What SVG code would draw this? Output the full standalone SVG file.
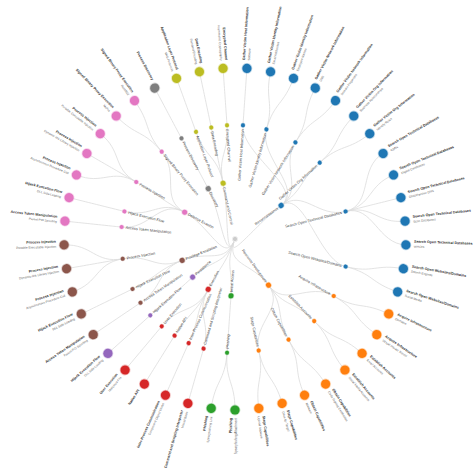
<svg xmlns="http://www.w3.org/2000/svg" width="474" height="475" viewBox="0 0 474 475">
<style>
.lk{fill:none;stroke:#dcdcdc;stroke-width:.8}
text{font-family:"Liberation Sans",Arial,sans-serif}
.t1{font-size:3.6px;font-weight:bold;fill:#333}
.t2{font-size:3.1px;fill:#666}
.ti{font-size:3.8px;fill:#444}
.fl{text-anchor:end}
.lf{stroke-width:1.6;stroke-opacity:.3}
.md{stroke-width:1;stroke-opacity:.3}
.tp{stroke-width:1.4;stroke-opacity:.3}
.blue{fill:#1f77b4;stroke:#1f77b4}
.orange{fill:#ff7f0e;stroke:#ff7f0e}
.green{fill:#2ca02c;stroke:#2ca02c}
.red{fill:#d62728;stroke:#d62728}
.purple{fill:#9467bd;stroke:#9467bd}
.brown{fill:#8c564b;stroke:#8c564b}
.pink{fill:#e377c2;stroke:#e377c2}
.gray{fill:#7f7f7f;stroke:#7f7f7f}
.olive{fill:#bcbd22;stroke:#bcbd22}
</style>
<rect width="474" height="475" fill="#fff"/>
<g transform="translate(235,239)">
<g id="connectors">
<path class="lk" d="M0,0C-10.21,26.61 23.06,-16.75 46.11,-33.5"/>
<path class="lk" d="M0,0C-10.21,26.61 16.75,23.06 33.5,46.11"/>
<path class="lk" d="M0,0C-10.21,26.61 -1.99,28.43 -3.98,56.86"/>
<path class="lk" d="M0,0C-10.21,26.61 -13.38,25.16 -26.76,50.33"/>
<path class="lk" d="M0,0C-10.21,26.61 -21.18,19.07 -42.36,38.14"/>
<path class="lk" d="M0,0C-10.21,26.61 -26.43,10.68 -52.85,21.35"/>
<path class="lk" d="M0,0C-10.21,26.61 -25.16,-13.38 -50.33,-26.76"/>
<path class="lk" d="M0,0C-10.21,26.61 -13.38,-25.16 -26.76,-50.33"/>
<path class="lk" d="M0,0C-10.21,26.61 -5.93,-27.88 -11.85,-55.75"/>
<path class="lk" d="M46.11,-33.5C69.17,-50.26 5.97,-85.29 7.96,-113.73"/>
<path class="lk" d="M46.11,-33.5C69.17,-50.26 23.56,-82.19 31.42,-109.59"/>
<path class="lk" d="M46.11,-33.5C69.17,-50.26 45.31,-72.5 60.41,-96.67"/>
<path class="lk" d="M46.11,-33.5C69.17,-50.26 63.54,-57.21 84.71,-76.28"/>
<path class="lk" d="M46.11,-33.5C69.17,-50.26 82.96,-20.68 110.61,-27.58"/>
<path class="lk" d="M46.11,-33.5C69.17,-50.26 82.96,20.68 110.61,27.58"/>
<path class="lk" d="M33.5,46.11C50.26,69.17 74.04,42.75 98.72,57"/>
<path class="lk" d="M33.5,46.11C50.26,69.17 59.4,61.5 79.2,82"/>
<path class="lk" d="M33.5,46.11C50.26,69.17 40.14,75.49 53.52,100.65"/>
<path class="lk" d="M33.5,46.11C50.26,69.17 17.78,83.63 23.7,111.5"/>
<path class="lk" d="M-3.98,56.86C-5.97,85.29 -5.97,85.29 -7.96,113.73"/>
<path class="lk" d="M-26.76,50.33C-40.14,75.49 -23.56,82.19 -31.42,109.59"/>
<path class="lk" d="M-26.76,50.33C-40.14,75.49 -34.77,78.1 -46.36,104.14"/>
<path class="lk" d="M-26.76,50.33C-40.14,75.49 -45.31,72.5 -60.41,96.67"/>
<path class="lk" d="M-26.76,50.33C-40.14,75.49 -54.96,65.49 -73.28,87.32"/>
<path class="lk" d="M-42.36,38.14C-63.54,57.21 -63.54,57.21 -84.71,76.28"/>
<path class="lk" d="M-52.85,21.35C-79.28,32.03 -70.88,47.81 -94.51,63.75"/>
<path class="lk" d="M-52.85,21.35C-79.28,32.03 -76.85,37.48 -102.46,49.98"/>
<path class="lk" d="M-52.85,21.35C-79.28,32.03 -84.2,14.84 -112.27,19.79"/>
<path class="lk" d="M-50.33,-26.76C-75.49,-40.14 -85.03,-8.93 -113.37,-11.91"/>
<path class="lk" d="M-50.33,-26.76C-75.49,-40.14 -82.96,-20.68 -110.61,-27.58"/>
<path class="lk" d="M-50.33,-26.76C-75.49,-40.14 -74.04,-42.75 -98.72,-57"/>
<path class="lk" d="M-50.33,-26.76C-75.49,-40.14 -54.96,-65.49 -73.28,-87.32"/>
<path class="lk" d="M-26.76,-50.33C-40.14,-75.49 -40.14,-75.49 -53.52,-100.65"/>
<path class="lk" d="M-11.85,-55.75C-17.78,-83.63 -29.24,-80.34 -38.99,-107.13"/>
<path class="lk" d="M-11.85,-55.75C-17.78,-83.63 -17.78,-83.63 -23.7,-111.5"/>
<path class="lk" d="M-11.85,-55.75C-17.78,-83.63 -5.97,-85.29 -7.96,-113.73"/>
<path class="lk" d="M7.96,-113.73C9.95,-142.15 9.95,-142.16 11.94,-170.59"/>
<path class="lk" d="M31.42,-109.59C39.28,-136.98 29.63,-139.38 35.55,-167.26"/>
<path class="lk" d="M31.42,-109.59C39.28,-136.98 48.74,-133.91 58.48,-160.69"/>
<path class="lk" d="M60.41,-96.67C75.51,-120.84 66.9,-125.81 80.28,-150.98"/>
<path class="lk" d="M60.41,-96.67C75.51,-120.84 83.76,-115.28 100.51,-138.34"/>
<path class="lk" d="M84.71,-76.28C105.89,-95.35 98.99,-102.5 118.79,-123"/>
<path class="lk" d="M84.71,-76.28C105.89,-95.35 112.29,-87.74 134.75,-105.28"/>
<path class="lk" d="M110.61,-27.58C138.27,-34.47 123.41,-71.25 148.09,-85.5"/>
<path class="lk" d="M110.61,-27.58C138.27,-34.47 132.13,-53.38 158.55,-64.06"/>
<path class="lk" d="M110.61,-27.58C138.27,-34.47 138.27,-34.47 165.92,-41.36"/>
<path class="lk" d="M110.61,-27.58C138.27,-34.47 141.72,-14.89 170.06,-17.87"/>
<path class="lk" d="M110.61,-27.58C138.27,-34.47 142.41,4.97 170.9,5.97"/>
<path class="lk" d="M110.61,27.58C138.27,34.47 140.33,24.74 168.4,29.69"/>
<path class="lk" d="M110.61,27.58C138.27,34.47 135.53,44.03 162.64,52.84"/>
<path class="lk" d="M98.72,57C123.41,71.25 128.08,62.47 153.69,74.97"/>
<path class="lk" d="M98.72,57C123.41,71.25 118.13,79.69 141.76,95.62"/>
<path class="lk" d="M79.2,82C98.99,102.5 105.89,95.35 127.07,114.42"/>
<path class="lk" d="M79.2,82C98.99,102.5 91.6,109.16 109.92,130.99"/>
<path class="lk" d="M53.52,100.65C66.9,125.81 75.51,120.84 90.61,145.01"/>
<path class="lk" d="M53.52,100.65C66.9,125.81 57.95,130.17 69.55,156.21"/>
<path class="lk" d="M23.7,111.5C29.63,139.38 39.27,136.99 47.13,164.38"/>
<path class="lk" d="M23.7,111.5C29.63,139.38 19.84,141.12 23.8,169.34"/>
<path class="lk" d="M-7.96,113.73C-9.95,142.16 0,142.5 0,171"/>
<path class="lk" d="M-7.96,113.73C-9.95,142.16 -19.84,141.12 -23.8,169.34"/>
<path class="lk" d="M-31.42,109.59C-39.27,136.99 -39.27,136.99 -47.13,164.38"/>
<path class="lk" d="M-46.36,104.14C-57.95,130.17 -57.95,130.17 -69.55,156.21"/>
<path class="lk" d="M-60.41,96.67C-75.51,120.84 -75.51,120.84 -90.61,145.01"/>
<path class="lk" d="M-73.28,87.32C-91.6,109.16 -91.6,109.16 -109.92,130.99"/>
<path class="lk" d="M-84.71,76.28C-105.89,95.35 -105.89,95.35 -127.07,114.42"/>
<path class="lk" d="M-94.51,63.75C-118.13,79.69 -118.13,79.69 -141.76,95.62"/>
<path class="lk" d="M-102.46,49.98C-128.08,62.47 -128.08,62.47 -153.69,74.97"/>
<path class="lk" d="M-112.27,19.79C-140.33,24.74 -135.53,44.03 -162.64,52.84"/>
<path class="lk" d="M-112.27,19.79C-140.33,24.74 -140.33,24.74 -168.4,29.69"/>
<path class="lk" d="M-112.27,19.79C-140.33,24.74 -142.41,4.97 -170.9,5.97"/>
<path class="lk" d="M-113.37,-11.91C-141.72,-14.89 -141.72,-14.89 -170.06,-17.87"/>
<path class="lk" d="M-110.61,-27.58C-138.27,-34.47 -138.27,-34.47 -165.92,-41.36"/>
<path class="lk" d="M-98.72,-57C-123.41,-71.25 -132.13,-53.38 -158.55,-64.06"/>
<path class="lk" d="M-98.72,-57C-123.41,-71.25 -123.41,-71.25 -148.09,-85.5"/>
<path class="lk" d="M-98.72,-57C-123.41,-71.25 -112.29,-87.74 -134.75,-105.28"/>
<path class="lk" d="M-73.28,-87.32C-91.6,-109.16 -98.99,-102.5 -118.79,-123"/>
<path class="lk" d="M-73.28,-87.32C-91.6,-109.16 -83.76,-115.28 -100.51,-138.34"/>
<path class="lk" d="M-53.52,-100.65C-66.9,-125.81 -66.9,-125.81 -80.28,-150.98"/>
<path class="lk" d="M-38.99,-107.13C-48.74,-133.91 -48.74,-133.91 -58.48,-160.69"/>
<path class="lk" d="M-23.7,-111.5C-29.63,-139.38 -29.63,-139.38 -35.55,-167.26"/>
<path class="lk" d="M-7.96,-113.73C-9.95,-142.16 -9.95,-142.16 -11.94,-170.59"/>
</g>

<g id="root"><circle r="2.6" fill="#ccc" stroke="#eee" stroke-width="1"/></g>

<g id="tac-reconnaissance" transform="rotate(-36) translate(57,0)"><circle class="tp blue" r="2.5"/><text class="ti fl" x="-4" dy=".35em">Reconnaissance</text></g>
<g id="tac-resource-development" transform="rotate(54) translate(57,0)"><circle class="tp orange" r="2.5"/><text class="ti fl" x="-4" dy=".35em">Resource Development</text></g>
<g id="tac-initial-access" transform="rotate(94) translate(57,0)"><circle class="tp green" r="2.5"/><text class="ti" transform="rotate(180)" x="4" dy=".35em">Initial Access</text></g>
<g id="tac-execution" transform="rotate(118) translate(57,0)"><circle class="tp red" r="2.5"/><text class="ti" transform="rotate(180)" x="4" dy=".35em">Execution</text></g>
<g id="tac-persistence" transform="rotate(138) translate(57,0)"><circle class="tp purple" r="2.5"/><text class="ti" transform="rotate(180)" x="4" dy=".35em">Persistence</text></g>
<g id="tac-privilege-escalation" transform="rotate(158) translate(57,0)"><circle class="tp brown" r="2.5"/><text class="ti" transform="rotate(180)" x="4" dy=".35em">Privilege Escalation</text></g>
<g id="tac-defense-evasion" transform="rotate(208) translate(57,0)"><circle class="tp pink" r="2.5"/><text class="ti" transform="rotate(180)" x="4" dy=".35em">Defense Evasion</text></g>
<g id="tac-discovery" transform="rotate(242) translate(57,0)"><circle class="tp gray" r="2.5"/><text class="ti" transform="rotate(180)" x="4" dy=".35em">Discovery</text></g>
<g id="tac-command-and-control" transform="rotate(258) translate(57,0)"><circle class="tp olive" r="2.5"/><text class="ti" transform="rotate(180)" x="4" dy=".35em">Command and Control</text></g>

<g id="tech-004" transform="rotate(-86) translate(114,0)"><circle class="md blue" r="2"/><text class="ti fl" x="-4" dy=".35em">Gather Victim Host Information</text></g>
<g id="tech-016" transform="rotate(-74) translate(114,0)"><circle class="md blue" r="2"/><text class="ti fl" x="-4" dy=".35em">Gather Victim Identity Information</text></g>
<g id="tech-032" transform="rotate(-58) translate(114,0)"><circle class="md blue" r="2"/><text class="ti fl" x="-4" dy=".35em">Gather Victim Network Information</text></g>
<g id="tech-048" transform="rotate(-42) translate(114,0)"><circle class="md blue" r="2"/><text class="ti fl" x="-4" dy=".35em">Gather Victim Org Information</text></g>
<g id="tech-076" transform="rotate(-14) translate(114,0)"><circle class="md blue" r="2"/><text class="ti fl" x="-4" dy=".35em">Search Open Technical Databases</text></g>
<g id="tech-104" transform="rotate(14) translate(114,0)"><circle class="md blue" r="2"/><text class="ti fl" x="-4" dy=".35em">Search Open Websites/Domains</text></g>
<g id="tech-120" transform="rotate(30) translate(114,0)"><circle class="md orange" r="2"/><text class="ti fl" x="-4" dy=".35em">Acquire Infrastructure</text></g>
<g id="tech-136" transform="rotate(46) translate(114,0)"><circle class="md orange" r="2"/><text class="ti fl" x="-4" dy=".35em">Establish Accounts</text></g>
<g id="tech-152" transform="rotate(62) translate(114,0)"><circle class="md orange" r="2"/><text class="ti fl" x="-4" dy=".35em">Obtain Capabilities</text></g>
<g id="tech-168" transform="rotate(78) translate(114,0)"><circle class="md orange" r="2"/><text class="ti fl" x="-4" dy=".35em">Stage Capabilities</text></g>
<g id="tech-184" transform="rotate(94) translate(114,0)"><circle class="md green" r="2"/><text class="ti" transform="rotate(180)" x="4" dy=".35em">Phishing</text></g>
<g id="tech-196" transform="rotate(106) translate(114,0)"><circle class="md red" r="2"/><text class="ti" transform="rotate(180)" x="4" dy=".35em">Command and Scripting Interpreter</text></g>
<g id="tech-204" transform="rotate(114) translate(114,0)"><circle class="md red" r="2"/><text class="ti" transform="rotate(180)" x="4" dy=".35em">Inter-Process Communication</text></g>
<g id="tech-212" transform="rotate(122) translate(114,0)"><circle class="md red" r="2"/><text class="ti" transform="rotate(180)" x="4" dy=".35em">Native API</text></g>
<g id="tech-220" transform="rotate(130) translate(114,0)"><circle class="md red" r="2"/><text class="ti" transform="rotate(180)" x="4" dy=".35em">User Execution</text></g>
<g id="tech-228" transform="rotate(138) translate(114,0)"><circle class="md purple" r="2"/><text class="ti" transform="rotate(180)" x="4" dy=".35em">Hijack Execution Flow</text></g>
<g id="tech-236" transform="rotate(146) translate(114,0)"><circle class="md brown" r="2"/><text class="ti" transform="rotate(180)" x="4" dy=".35em">Access Token Manipulation</text></g>
<g id="tech-244" transform="rotate(154) translate(114,0)"><circle class="md brown" r="2"/><text class="ti" transform="rotate(180)" x="4" dy=".35em">Hijack Execution Flow</text></g>
<g id="tech-260" transform="rotate(170) translate(114,0)"><circle class="md brown" r="2"/><text class="ti" transform="rotate(180)" x="4" dy=".35em">Process Injection</text></g>
<g id="tech-276" transform="rotate(186) translate(114,0)"><circle class="md pink" r="2"/><text class="ti" transform="rotate(180)" x="4" dy=".35em">Access Token Manipulation</text></g>
<g id="tech-284" transform="rotate(194) translate(114,0)"><circle class="md pink" r="2"/><text class="ti" transform="rotate(180)" x="4" dy=".35em">Hijack Execution Flow</text></g>
<g id="tech-300" transform="rotate(210) translate(114,0)"><circle class="md pink" r="2"/><text class="ti" transform="rotate(180)" x="4" dy=".35em">Process Injection</text></g>
<g id="tech-320" transform="rotate(230) translate(114,0)"><circle class="md pink" r="2"/><text class="ti" transform="rotate(180)" x="4" dy=".35em">Signed Binary Proxy Execution</text></g>
<g id="tech-332" transform="rotate(242) translate(114,0)"><circle class="md gray" r="2"/><text class="ti" transform="rotate(180)" x="4" dy=".35em">Process Discovery</text></g>
<g id="tech-340" transform="rotate(250) translate(114,0)"><circle class="md olive" r="2"/><text class="ti" transform="rotate(180)" x="4" dy=".35em">Application Layer Protocol</text></g>
<g id="tech-348" transform="rotate(258) translate(114,0)"><circle class="md olive" r="2"/><text class="ti" transform="rotate(180)" x="4" dy=".35em">Data Encoding</text></g>
<g id="tech-356" transform="rotate(266) translate(114,0)"><circle class="md olive" r="2"/><text class="ti" transform="rotate(180)" x="4" dy=".35em">Encrypted Channel</text></g>

<g id="leaf-004" transform="rotate(-86) translate(171,0)"><circle class="lf blue" r="4.6"/><text class="t1" x="8" y="-2.6">Gather Victim Host Information</text><text class="t2" x="8" y="2.4">Software</text></g>
<g id="leaf-012" transform="rotate(-78) translate(171,0)"><circle class="lf blue" r="4.6"/><text class="t1" x="8" y="-2.6">Gather Victim Identity Information</text><text class="t2" x="8" y="2.4">Email Addresses</text></g>
<g id="leaf-020" transform="rotate(-70) translate(171,0)"><circle class="lf blue" r="4.6"/><text class="t1" x="8" y="-2.6">Gather Victim Identity Information</text><text class="t2" x="8" y="2.4">Employee Names</text></g>
<g id="leaf-028" transform="rotate(-62) translate(171,0)"><circle class="lf blue" r="4.6"/><text class="t1" x="8" y="-2.6">Gather Victim Network Information</text><text class="t2" x="8" y="2.4">DNS</text></g>
<g id="leaf-036" transform="rotate(-54) translate(171,0)"><circle class="lf blue" r="4.6"/><text class="t1" x="8" y="-2.6">Gather Victim Network Information</text><text class="t2" x="8" y="2.4">Domain Properties</text></g>
<g id="leaf-044" transform="rotate(-46) translate(171,0)"><circle class="lf blue" r="4.6"/><text class="t1" x="8" y="-2.6">Gather Victim Org Information</text><text class="t2" x="8" y="2.4">Business Relationships</text></g>
<g id="leaf-052" transform="rotate(-38) translate(171,0)"><circle class="lf blue" r="4.6"/><text class="t1" x="8" y="-2.6">Gather Victim Org Information</text><text class="t2" x="8" y="2.4">Identify Roles</text></g>
<g id="leaf-060" transform="rotate(-30) translate(171,0)"><circle class="lf blue" r="4.6"/><text class="t1" x="8" y="-2.6">Search Open Technical Databases</text><text class="t2" x="8" y="2.4">CDNs</text></g>
<g id="leaf-068" transform="rotate(-22) translate(171,0)"><circle class="lf blue" r="4.6"/><text class="t1" x="8" y="-2.6">Search Open Technical Databases</text><text class="t2" x="8" y="2.4">Digital Certificates</text></g>
<g id="leaf-076" transform="rotate(-14) translate(171,0)"><circle class="lf blue" r="4.6"/><text class="t1" x="8" y="-2.6">Search Open Technical Databases</text><text class="t2" x="8" y="2.4">DNS/Passive DNS</text></g>
<g id="leaf-084" transform="rotate(-6) translate(171,0)"><circle class="lf blue" r="4.6"/><text class="t1" x="8" y="-2.6">Search Open Technical Databases</text><text class="t2" x="8" y="2.4">Scan Databases</text></g>
<g id="leaf-092" transform="rotate(2) translate(171,0)"><circle class="lf blue" r="4.6"/><text class="t1" x="8" y="-2.6">Search Open Technical Databases</text><text class="t2" x="8" y="2.4">WHOIS</text></g>
<g id="leaf-100" transform="rotate(10) translate(171,0)"><circle class="lf blue" r="4.6"/><text class="t1" x="8" y="-2.6">Search Open Websites/Domains</text><text class="t2" x="8" y="2.4">Search Engines</text></g>
<g id="leaf-108" transform="rotate(18) translate(171,0)"><circle class="lf blue" r="4.6"/><text class="t1" x="8" y="-2.6">Search Open Websites/Domains</text><text class="t2" x="8" y="2.4">Social Media</text></g>
<g id="leaf-116" transform="rotate(26) translate(171,0)"><circle class="lf orange" r="4.6"/><text class="t1" x="8" y="-2.6">Acquire Infrastructure</text><text class="t2" x="8" y="2.4">Domains</text></g>
<g id="leaf-124" transform="rotate(34) translate(171,0)"><circle class="lf orange" r="4.6"/><text class="t1" x="8" y="-2.6">Acquire Infrastructure</text><text class="t2" x="8" y="2.4">Virtual Private Server</text></g>
<g id="leaf-132" transform="rotate(42) translate(171,0)"><circle class="lf orange" r="4.6"/><text class="t1" x="8" y="-2.6">Establish Accounts</text><text class="t2" x="8" y="2.4">Email Accounts</text></g>
<g id="leaf-140" transform="rotate(50) translate(171,0)"><circle class="lf orange" r="4.6"/><text class="t1" x="8" y="-2.6">Establish Accounts</text><text class="t2" x="8" y="2.4">Social Media Accounts</text></g>
<g id="leaf-148" transform="rotate(58) translate(171,0)"><circle class="lf orange" r="4.6"/><text class="t1" x="8" y="-2.6">Obtain Capabilities</text><text class="t2" x="8" y="2.4">Code Signing Certificates</text></g>
<g id="leaf-156" transform="rotate(66) translate(171,0)"><circle class="lf orange" r="4.6"/><text class="t1" x="8" y="-2.6">Obtain Capabilities</text><text class="t2" x="8" y="2.4">Malware</text></g>
<g id="leaf-164" transform="rotate(74) translate(171,0)"><circle class="lf orange" r="4.6"/><text class="t1" x="8" y="-2.6">Stage Capabilities</text><text class="t2" x="8" y="2.4">Drive-by Target</text></g>
<g id="leaf-172" transform="rotate(82) translate(171,0)"><circle class="lf orange" r="4.6"/><text class="t1" x="8" y="-2.6">Stage Capabilities</text><text class="t2" x="8" y="2.4">Upload Malware</text></g>
<g id="leaf-180" transform="rotate(90) translate(171,0)"><circle class="lf green" r="4.6"/><g class="fl" transform="rotate(180)"><text class="t1" x="-8" y="-2.6">Phishing</text><text class="t2" x="-8" y="2.4">Spearphishing Attachment</text></g></g>
<g id="leaf-188" transform="rotate(98) translate(171,0)"><circle class="lf green" r="4.6"/><g class="fl" transform="rotate(180)"><text class="t1" x="-8" y="-2.6">Phishing</text><text class="t2" x="-8" y="2.4">Spearphishing Link</text></g></g>
<g id="leaf-196" transform="rotate(106) translate(171,0)"><circle class="lf red" r="4.6"/><g class="fl" transform="rotate(180)"><text class="t1" x="-8" y="-2.6">Command and Scripting Interpreter</text><text class="t2" x="-8" y="2.4">Visual Basic</text></g></g>
<g id="leaf-204" transform="rotate(114) translate(171,0)"><circle class="lf red" r="4.6"/><g class="fl" transform="rotate(180)"><text class="t1" x="-8" y="-2.6">Inter-Process Communication</text><text class="t2" x="-8" y="2.4">Component Object Model</text></g></g>
<g id="leaf-212" transform="rotate(122) translate(171,0)"><circle class="lf red" r="4.6"/><g class="fl" transform="rotate(180)"><text class="t1" x="-8" y="-0.8">Native API</text></g></g>
<g id="leaf-220" transform="rotate(130) translate(171,0)"><circle class="lf red" r="4.6"/><g class="fl" transform="rotate(180)"><text class="t1" x="-8" y="-2.6">User Execution</text><text class="t2" x="-8" y="2.4">Malicious File</text></g></g>
<g id="leaf-228" transform="rotate(138) translate(171,0)"><circle class="lf purple" r="4.6"/><g class="fl" transform="rotate(180)"><text class="t1" x="-8" y="-2.6">Hijack Execution Flow</text><text class="t2" x="-8" y="2.4">DLL Side-Loading</text></g></g>
<g id="leaf-236" transform="rotate(146) translate(171,0)"><circle class="lf brown" r="4.6"/><g class="fl" transform="rotate(180)"><text class="t1" x="-8" y="-2.6">Access Token Manipulation</text><text class="t2" x="-8" y="2.4">Parent PID Spoofing</text></g></g>
<g id="leaf-244" transform="rotate(154) translate(171,0)"><circle class="lf brown" r="4.6"/><g class="fl" transform="rotate(180)"><text class="t1" x="-8" y="-2.6">Hijack Execution Flow</text><text class="t2" x="-8" y="2.4">DLL Side-Loading</text></g></g>
<g id="leaf-252" transform="rotate(162) translate(171,0)"><circle class="lf brown" r="4.6"/><g class="fl" transform="rotate(180)"><text class="t1" x="-8" y="-2.6">Process Injection</text><text class="t2" x="-8" y="2.4">Asynchronous Procedure Call</text></g></g>
<g id="leaf-260" transform="rotate(170) translate(171,0)"><circle class="lf brown" r="4.6"/><g class="fl" transform="rotate(180)"><text class="t1" x="-8" y="-2.6">Process Injection</text><text class="t2" x="-8" y="2.4">Dynamic-link Library Injection</text></g></g>
<g id="leaf-268" transform="rotate(178) translate(171,0)"><circle class="lf brown" r="4.6"/><g class="fl" transform="rotate(180)"><text class="t1" x="-8" y="-2.6">Process Injection</text><text class="t2" x="-8" y="2.4">Portable Executable Injection</text></g></g>
<g id="leaf-276" transform="rotate(186) translate(171,0)"><circle class="lf pink" r="4.6"/><g class="fl" transform="rotate(180)"><text class="t1" x="-8" y="-2.6">Access Token Manipulation</text><text class="t2" x="-8" y="2.4">Parent PID Spoofing</text></g></g>
<g id="leaf-284" transform="rotate(194) translate(171,0)"><circle class="lf pink" r="4.6"/><g class="fl" transform="rotate(180)"><text class="t1" x="-8" y="-2.6">Hijack Execution Flow</text><text class="t2" x="-8" y="2.4">DLL Side-Loading</text></g></g>
<g id="leaf-292" transform="rotate(202) translate(171,0)"><circle class="lf pink" r="4.6"/><g class="fl" transform="rotate(180)"><text class="t1" x="-8" y="-2.6">Process Injection</text><text class="t2" x="-8" y="2.4">Asynchronous Procedure Call</text></g></g>
<g id="leaf-300" transform="rotate(210) translate(171,0)"><circle class="lf pink" r="4.6"/><g class="fl" transform="rotate(180)"><text class="t1" x="-8" y="-2.6">Process Injection</text><text class="t2" x="-8" y="2.4">Dynamic-link Library Injection</text></g></g>
<g id="leaf-308" transform="rotate(218) translate(171,0)"><circle class="lf pink" r="4.6"/><g class="fl" transform="rotate(180)"><text class="t1" x="-8" y="-2.6">Process Injection</text><text class="t2" x="-8" y="2.4">Portable Executable Injection</text></g></g>
<g id="leaf-316" transform="rotate(226) translate(171,0)"><circle class="lf pink" r="4.6"/><g class="fl" transform="rotate(180)"><text class="t1" x="-8" y="-2.6">Signed Binary Proxy Execution</text><text class="t2" x="-8" y="2.4">Mshta</text></g></g>
<g id="leaf-324" transform="rotate(234) translate(171,0)"><circle class="lf pink" r="4.6"/><g class="fl" transform="rotate(180)"><text class="t1" x="-8" y="-2.6">Signed Binary Proxy Execution</text><text class="t2" x="-8" y="2.4">Rundll32</text></g></g>
<g id="leaf-332" transform="rotate(242) translate(171,0)"><circle class="lf gray" r="4.6"/><g class="fl" transform="rotate(180)"><text class="t1" x="-8" y="-0.8">Process Discovery</text></g></g>
<g id="leaf-340" transform="rotate(250) translate(171,0)"><circle class="lf olive" r="4.6"/><g class="fl" transform="rotate(180)"><text class="t1" x="-8" y="-2.6">Application Layer Protocol</text><text class="t2" x="-8" y="2.4">Web Protocols</text></g></g>
<g id="leaf-348" transform="rotate(258) translate(171,0)"><circle class="lf olive" r="4.6"/><g class="fl" transform="rotate(180)"><text class="t1" x="-8" y="-2.6">Data Encoding</text><text class="t2" x="-8" y="2.4">Standard Encoding</text></g></g>
<g id="leaf-356" transform="rotate(266) translate(171,0)"><circle class="lf olive" r="4.6"/><g class="fl" transform="rotate(180)"><text class="t1" x="-8" y="-2.6">Encrypted Channel</text><text class="t2" x="-8" y="2.4">Asymmetric Cryptography</text></g></g>
</g>
</svg>
